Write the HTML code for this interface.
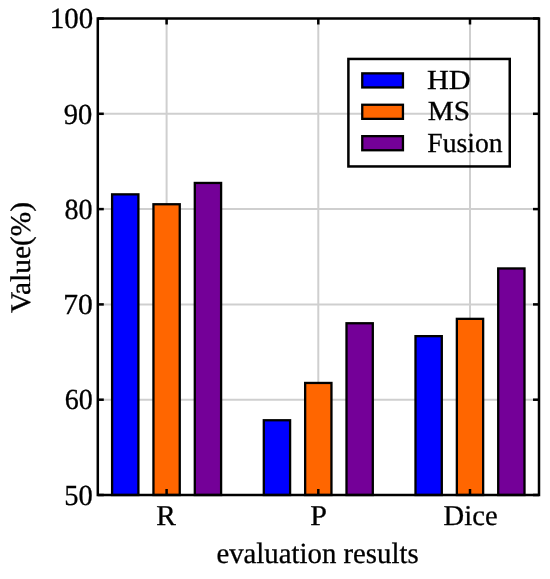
<!DOCTYPE html>
<html><head><meta charset="utf-8"><style>
html,body{margin:0;padding:0;background:#fff;width:550px;height:579px;overflow:hidden}
svg{display:block}
text{font-family:"Liberation Serif","Times New Roman",serif;fill:#000;stroke:#000;stroke-width:0.3px;text-rendering:geometricPrecision}
</style></head><body>
<svg width="550" height="579" viewBox="0 0 550 579">
<line x1="166.60" y1="18.5" x2="166.60" y2="495.0" stroke="#cfcfcf" stroke-width="2.0"/>
<line x1="318.30" y1="18.5" x2="318.30" y2="495.0" stroke="#cfcfcf" stroke-width="2.0"/>
<line x1="470.00" y1="18.5" x2="470.00" y2="495.0" stroke="#cfcfcf" stroke-width="2.0"/>
<line x1="97.8" y1="399.70" x2="539.0" y2="399.70" stroke="#cfcfcf" stroke-width="2.0"/>
<line x1="97.8" y1="304.40" x2="539.0" y2="304.40" stroke="#cfcfcf" stroke-width="2.0"/>
<line x1="97.8" y1="209.10" x2="539.0" y2="209.10" stroke="#cfcfcf" stroke-width="2.0"/>
<line x1="97.8" y1="113.80" x2="539.0" y2="113.80" stroke="#cfcfcf" stroke-width="2.0"/>
<rect x="112.10" y="194.35" width="26.30" height="300.65" fill="#0000ff" stroke="#000" stroke-width="2.3"/>
<rect x="153.45" y="204.25" width="26.30" height="290.75" fill="#ff6600" stroke="#000" stroke-width="2.3"/>
<rect x="194.80" y="182.95" width="26.30" height="312.05" fill="#740098" stroke="#000" stroke-width="2.3"/>
<rect x="263.80" y="420.25" width="26.30" height="74.75" fill="#0000ff" stroke="#000" stroke-width="2.3"/>
<rect x="305.15" y="382.95" width="26.30" height="112.05" fill="#ff6600" stroke="#000" stroke-width="2.3"/>
<rect x="346.50" y="323.25" width="26.30" height="171.75" fill="#740098" stroke="#000" stroke-width="2.3"/>
<rect x="415.50" y="336.15" width="26.30" height="158.85" fill="#0000ff" stroke="#000" stroke-width="2.3"/>
<rect x="456.85" y="318.85" width="26.30" height="176.15" fill="#ff6600" stroke="#000" stroke-width="2.3"/>
<rect x="498.20" y="268.45" width="26.30" height="226.55" fill="#740098" stroke="#000" stroke-width="2.3"/>
<line x1="166.60" y1="495.0" x2="166.60" y2="489.0" stroke="#000" stroke-width="2.5"/>
<line x1="166.60" y1="18.5" x2="166.60" y2="24.5" stroke="#000" stroke-width="2.5"/>
<line x1="318.30" y1="495.0" x2="318.30" y2="489.0" stroke="#000" stroke-width="2.5"/>
<line x1="318.30" y1="18.5" x2="318.30" y2="24.5" stroke="#000" stroke-width="2.5"/>
<line x1="470.00" y1="495.0" x2="470.00" y2="489.0" stroke="#000" stroke-width="2.5"/>
<line x1="470.00" y1="18.5" x2="470.00" y2="24.5" stroke="#000" stroke-width="2.5"/>
<line x1="97.8" y1="495.00" x2="103.8" y2="495.00" stroke="#000" stroke-width="2.5"/>
<line x1="539.0" y1="495.00" x2="533.0" y2="495.00" stroke="#000" stroke-width="2.5"/>
<line x1="97.8" y1="399.70" x2="103.8" y2="399.70" stroke="#000" stroke-width="2.5"/>
<line x1="539.0" y1="399.70" x2="533.0" y2="399.70" stroke="#000" stroke-width="2.5"/>
<line x1="97.8" y1="304.40" x2="103.8" y2="304.40" stroke="#000" stroke-width="2.5"/>
<line x1="539.0" y1="304.40" x2="533.0" y2="304.40" stroke="#000" stroke-width="2.5"/>
<line x1="97.8" y1="209.10" x2="103.8" y2="209.10" stroke="#000" stroke-width="2.5"/>
<line x1="539.0" y1="209.10" x2="533.0" y2="209.10" stroke="#000" stroke-width="2.5"/>
<line x1="97.8" y1="113.80" x2="103.8" y2="113.80" stroke="#000" stroke-width="2.5"/>
<line x1="539.0" y1="113.80" x2="533.0" y2="113.80" stroke="#000" stroke-width="2.5"/>
<line x1="97.8" y1="18.50" x2="103.8" y2="18.50" stroke="#000" stroke-width="2.5"/>
<line x1="539.0" y1="18.50" x2="533.0" y2="18.50" stroke="#000" stroke-width="2.5"/>
<rect x="97.8" y="18.5" width="441.20" height="476.50" fill="none" stroke="#000" stroke-width="2.5"/>
<rect x="348.4" y="58.95" width="161.35" height="107.5" fill="none" stroke="#000" stroke-width="2.5"/>
<rect x="362.25" y="73.35" width="40.70" height="14.10" fill="#0000ff" stroke="#000" stroke-width="2.3"/>
<rect x="362.25" y="104.75" width="40.70" height="14.10" fill="#ff6600" stroke="#000" stroke-width="2.3"/>
<rect x="362.25" y="136.15" width="40.70" height="14.10" fill="#740098" stroke="#000" stroke-width="2.3"/>
<text transform="translate(92.70,504.90) scale(0.9779,1)" text-anchor="end" font-size="29.20">50</text>
<text transform="translate(92.85,409.20) scale(0.9605,1)" text-anchor="end" font-size="29.20">60</text>
<text transform="translate(92.75,313.50) scale(1.0149,1)" text-anchor="end" font-size="29.20">70</text>
<text transform="translate(92.60,219.20) scale(0.9643,1)" text-anchor="end" font-size="29.20">80</text>
<text transform="translate(92.40,123.50) scale(0.9787,1)" text-anchor="end" font-size="29.20">90</text>
<text transform="translate(93.20,28.30) scale(0.9903,1)" text-anchor="end" font-size="29.20">100</text>
<text transform="translate(166.06,524.80) scale(1.0164,1)" text-anchor="middle" font-size="28.80">R</text>
<text transform="translate(318.51,525.40) scale(1.0453,1)" text-anchor="middle" font-size="28.80">P</text>
<text transform="translate(470.61,525.30) scale(0.9929,1)" text-anchor="middle" font-size="28.80">Dice</text>
<text transform="translate(317.50,562.60) scale(0.9793,1)" text-anchor="middle" font-size="29.40">evaluation results</text>
<text transform="translate(30.25,257.45) rotate(-90) scale(1.0300,1)" text-anchor="middle" font-size="28.50">Value(%)</text>
<text transform="translate(426.95,89.30) scale(1.0965,1)" text-anchor="start" font-size="27.60">HD</text>
<text transform="translate(427.65,120.05) scale(1.0600,1)" text-anchor="start" font-size="27.60">MS</text>
<text transform="translate(427.25,152.00) scale(1.0022,1)" text-anchor="start" font-size="27.60">Fusion</text>
</svg>
</body></html>
